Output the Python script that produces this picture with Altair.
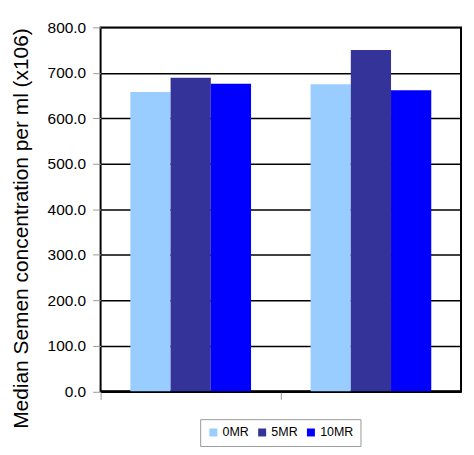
import altair as alt
import pandas as pd

groups = ["Group 1", "Group 2"]
series = ["0MR", "5MR", "10MR"]
values_group1 = [658, 689, 676]
values_group2 = [675, 750, 662]
colors = ["#99CCFF", "#333399", "#0000FF"]
y_ticks = [0, 100, 200, 300, 400, 500, 600, 700, 800]

rows = []
for g, vals in zip(groups, [values_group1, values_group2]):
    for s, v in zip(series, vals):
        rows.append({"group": g, "series": s, "value": v})
df = pd.DataFrame(rows)

FONT = "Liberation Sans"

chart = alt.Chart(df).mark_bar().encode(
    x=alt.X(
        "group:N", sort=groups,
        scale=alt.Scale(paddingInner=0, paddingOuter=0),
        axis=alt.Axis(title=None, labels=False, bandPosition=0, ticks=True,
                      tickSize=8, tickColor="#999999", domainColor="black",
                      domainWidth=2, grid=False),
    ),
    xOffset=alt.XOffset("series:N", sort=series,
                        scale=alt.Scale(paddingInner=0, paddingOuter=0.74)),
    y=alt.Y(
        "value:Q",
        scale=alt.Scale(domain=[0, 800], nice=False),
        axis=alt.Axis(values=y_ticks, format=".1f",
                      title="Median Semen concentration per ml (x106)",
                      labelFont=FONT, labelFontSize=15.5, labelColor="black",
                      tickColor="#999999", tickSize=8, labelPadding=7,
                      gridColor="black", gridWidth=1.5, domain=False,
                      titleFont=FONT, titleFontSize=21, titleFontWeight="normal",
                      titleColor="black", titleAngle=270, titleX=-73, titleY=201.5,
                      titleBaseline="alphabetic"),
    ),
    color=alt.Color(
        "series:N", sort=series,
        scale=alt.Scale(domain=series, range=colors),
        legend=alt.Legend(orient="none", legendX=100, legendY=393.5,
                          direction="horizontal", title=None,
                          symbolType="square", symbolSize=64,
                          symbolStrokeWidth=0, labelFont=FONT,
                          labelFontSize=12.5, labelColor="black", padding=7,
                          strokeColor="#999999", fillColor="white",
                          columnPadding=7, labelOffset=3),
    ),
).properties(
    width=362, height=365.5,
    padding={"left": 93, "top": 18.5, "right": 5, "bottom": 55},
    autosize=alt.AutoSizeParams(type="none"),
).configure_view(stroke="black", strokeWidth=2)

chart.save("out.html", embed_options={"renderer": "svg", "actions": False})
